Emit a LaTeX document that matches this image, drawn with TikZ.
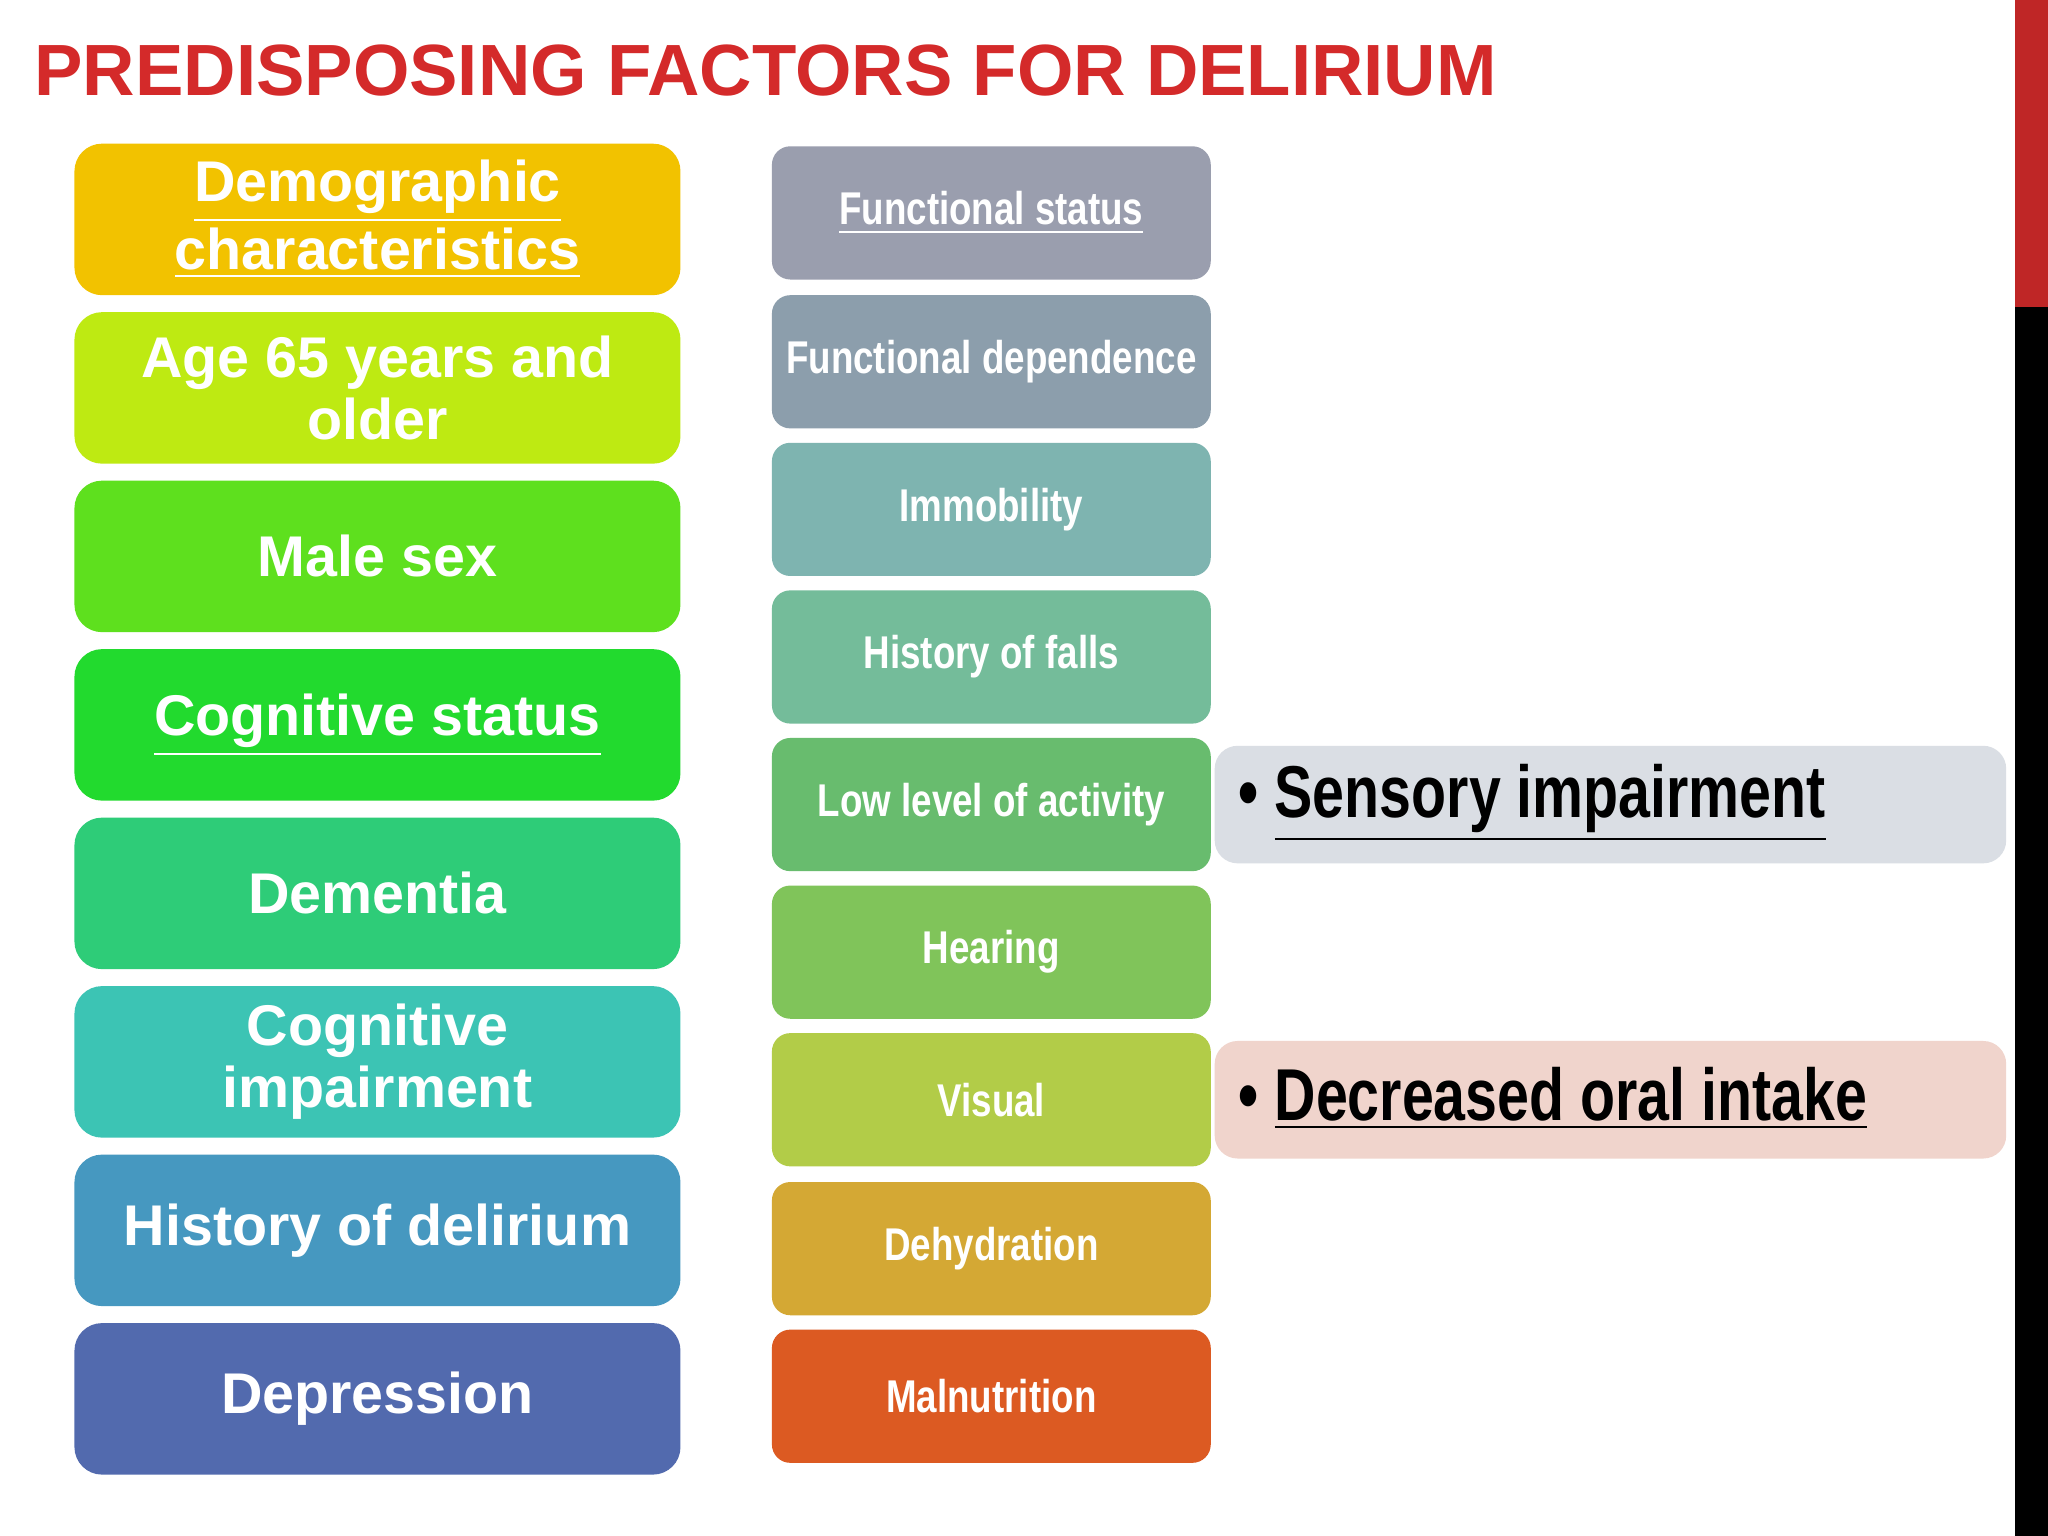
\documentclass[tikz,border=0pt]{standalone}
\usepackage{fontspec}
\setmainfont{Liberation Sans}
\usepackage{graphicx}
\definecolor{t1}{HTML}{D42A2A}
\definecolor{sgray}{HTML}{DADEE4}
\definecolor{spink}{HTML}{F0D4CC}
\begin{document}
\begin{tikzpicture}[x=0.01cm,y=-0.01cm,
 lbox/.style={inner sep=0pt,text=white,font=\bfseries\fontsize{12.5}{13.5}\selectfont,align=center},
 rbox/.style={inner sep=0pt,text=white,font=\bfseries\fontsize{10}{11}\selectfont},
 side/.style={anchor=west,font=\bfseries\fontsize{16}{17}\selectfont}]
\useasboundingbox (0,0) rectangle (1568,1176);
\fill[white] (0,0) rectangle (1568,1176);
\fill[t1!90!black] (1543,0) rectangle (1568,235);
\fill[black] (1543,235) rectangle (1568,1176);
\node[anchor=west,text=t1,font=\bfseries\fontsize{15.8}{17}\selectfont] (title) at (14,54) {PREDISPOSING FACTORS FOR DELIRIUM};
% left column
\foreach \y/\c/\t [count=\i] in {
 110/F2C200/{\underline{Demographic}\\\underline{characteristics}},
 239/BEEA12/{Age 65 years and\\older},
 368/5EE01E/{Male sex},
 497/22DA2E/{\underline{Cognitive status}},
 626/2ECC78/{Dementia},
 755/3CC4B4/{Cognitive\\impairment},
 884/4698C0/{History of delirium},
 1013/526AAE/{Depression}}{
 \definecolor{cc}{HTML}{\c}
 \fill[cc,rounded corners=6pt] (57,\y) rectangle (521,\y+116);
 \node[lbox] (L\i) at (289,\y+58) {\t};
}
% right column
\foreach \y/\c/\t [count=\i] in {
 112/9A9EAE/{\underline{Functional status}},
 226/8C9EAC/{Functional dependence},
 339/7EB4B0/{Immobility},
 452/74BC9A/{History of falls},
 565/68BC6E/{Low level of activity},
 678/80C45A/{Hearing},
 791/B2CC48/{Visual},
 905/D4A834/{Dehydration},
 1018/DC5A22/{Malnutrition}}{
 \definecolor{cc}{HTML}{\c}
 \fill[cc,rounded corners=4pt] (591,\y) rectangle (927,\y+102);
 \node[rbox] (R\i) at (759,\y+51) {\scalebox{0.8}[1]{\t}};
}
\fill[sgray,rounded corners=5pt] (930,571) rectangle (1536,661);
\fill[spink,rounded corners=5pt] (930,797) rectangle (1536,887);
\node[side] (S1) at (936,615) {\scalebox{0.78}[1]{\textbullet\ \underline{Sensory impairment}}};
\node[side] (S2) at (936,841) {\scalebox{0.78}[1]{\textbullet\ \underline{Decreased oral intake}}};
\end{tikzpicture}
\end{document}
